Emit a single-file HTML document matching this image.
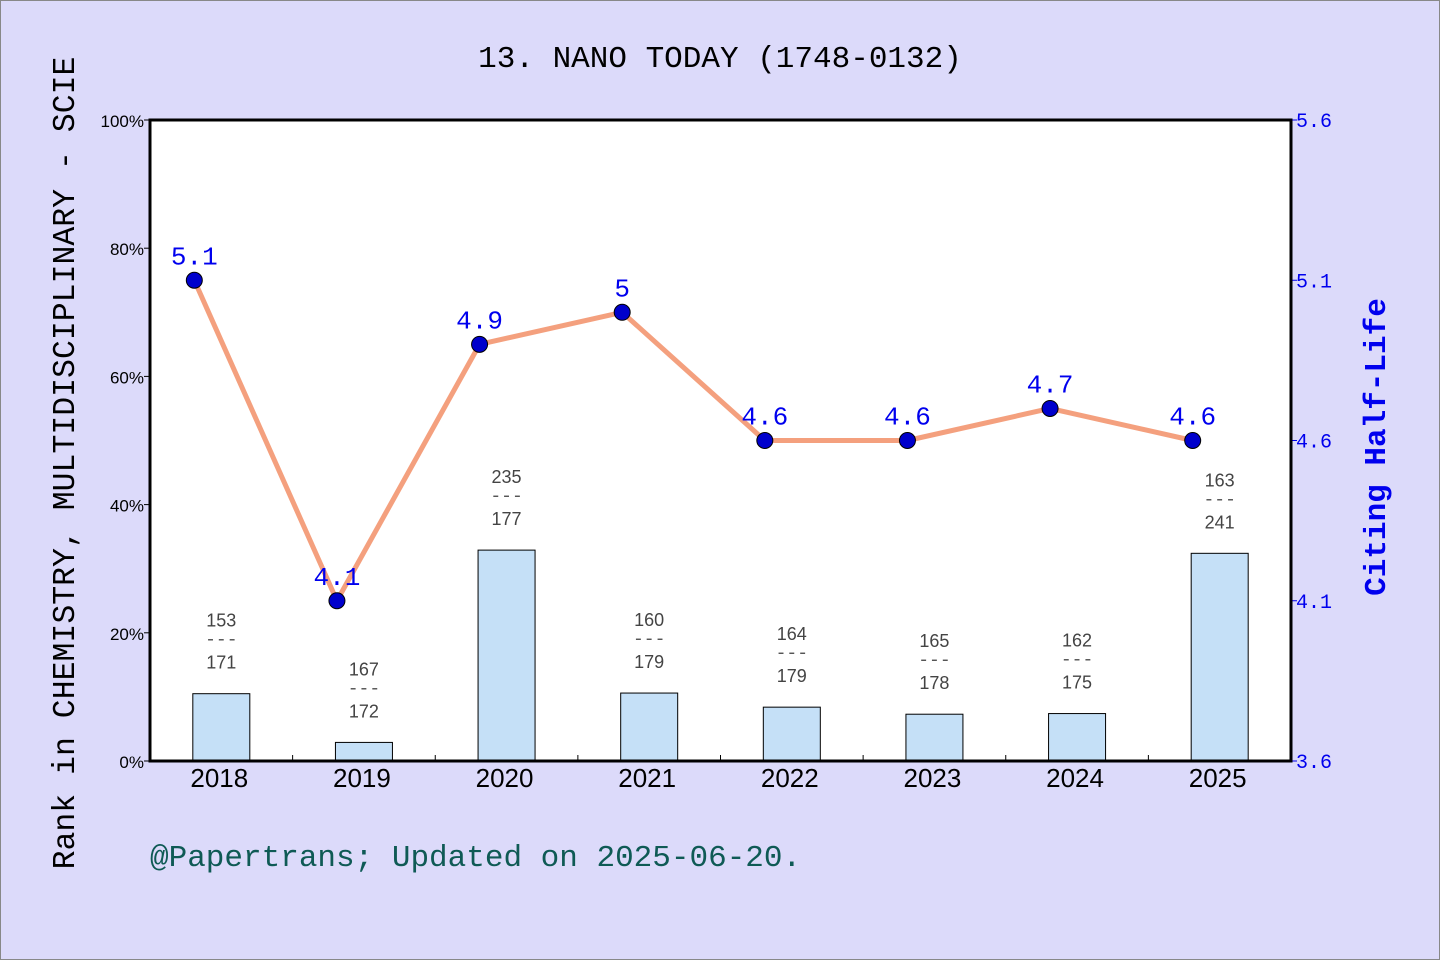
<!DOCTYPE html>
<html><head><meta charset="utf-8"><style>
html,body{margin:0;padding:0;background:#dcdafa;}
svg{display:block}
</style></head><body>
<svg id="chart" width="1440" height="960" xmlns="http://www.w3.org/2000/svg">
<rect x="0.5" y="0.5" width="1439" height="959" fill="#dcdafa" stroke="#888"/>
<text x="720" y="67" text-anchor="middle" font-family="Liberation Mono, 'Noto Sans CJK SC', monospace" font-size="31" fill="#000">13. NANO TODAY (1748-0132)</text>
<rect x="150" y="120" width="1141" height="641" fill="#fff"/>
<g id="bars"></g><g id="ticks"></g><g id="line"></g>
<rect x="150" y="120" width="1141" height="641" fill="none" stroke="#000" stroke-width="3"/>
<text transform="translate(74,463) rotate(-90)" text-anchor="middle" font-family="Liberation Mono, monospace" font-size="31.5" fill="#000">Rank in CHEMISTRY, MULTIDISCIPLINARY - SCIE</text>
<text transform="translate(1385,447) rotate(-90)" text-anchor="middle" font-family="Liberation Mono, monospace" font-size="31" font-weight="bold" fill="#0000ee">Citing Half-Life</text>
<text x="150" y="866" font-family="Liberation Mono, monospace" font-size="31" fill="#0f5a55">@Papertrans; Updated on 2025-06-20.</text>
</svg>
<script>
const years=['2018','2019','2020','2021','2022','2023','2024','2025'];
const rankPct=[10.5,2.9,32.9,10.6,8.4,7.3,7.4,32.4];
const rankNum=['153','167','235','160','164','165','162','163'];
const rankDen=['171','172','177','179','179','178','175','241'];
const halfLife=[5.1,4.1,4.9,5,4.6,4.6,4.7,4.6];
const halfLifeLabels=['5.1','4.1','4.9','5','4.6','4.6','4.7','4.6'];
const leftTicks=[0,20,40,60,80,100];
const rightTicks=[3.6,4.1,4.6,5.1,5.6];
const NS='http://www.w3.org/2000/svg';
const X0=150,X1=1291,Y0=761,Y1=120;
const bw=(X1-X0)/years.length;
const xc=i=>X0+(i+0.5)*bw;
const xp=i=>xc(i)-27;
const yL=v=>Y0-(v/100)*(Y0-Y1);
const yR=v=>Y0-((v-3.6)/2)*(Y0-Y1);
function mk(tag,attrs,parent,txt){const e=document.createElementNS(NS,tag);for(const k in attrs)e.setAttribute(k,attrs[k]);if(txt!==undefined)e.textContent=txt;parent.appendChild(e);return e;}
const gb=document.getElementById('bars'),gt=document.getElementById('ticks'),gl=document.getElementById('line');
const F="Liberation Sans, sans-serif";
years.forEach((y,i)=>{
 const top=yL(rankPct[i]);
 const r=mk('rect',{x:xc(i)-28.5,y:top,width:57,height:Y0-top,fill:'#c5e0f7',stroke:'#000','stroke-width':1},gb);
 
 
 const t1=mk('text',{x:xc(i),y:top-67,'text-anchor':'middle','font-family':F,'font-size':18,fill:'#444'},gb,rankNum[i]);
 
 
 const t2=mk('text',{x:xc(i),y:top-49,'text-anchor':'middle','font-family':'Liberation Mono, monospace','font-size':18,fill:'#555'},gb,'---');
 
 
 const t3=mk('text',{x:xc(i),y:top-25,'text-anchor':'middle','font-family':F,'font-size':18,fill:'#444'},gb,rankDen[i]);
 
 
 const xl=mk('text',{x:xc(i)-2,y:787,'text-anchor':'middle','font-family':F,'font-size':26,fill:'#000'},gt,y);
 
 
 if(i>0){const tk=mk('line',{x1:X0+i*bw,x2:X0+i*bw,y1:Y0,y2:Y0-6,stroke:'#000','stroke-width':1},gt);
 
 }
});
leftTicks.forEach(v=>{
 const tk=mk('line',{x1:X0-6,x2:X0,y1:yL(v),y2:yL(v),stroke:'#000','stroke-width':1},gt);
 
 
 const t=mk('text',{x:X0-6,y:yL(v)+7,'text-anchor':'end','font-family':F,'font-size':17,fill:'#000'},gt,v+'%');
 
 
});
rightTicks.forEach(v=>{
 const tk=mk('line',{x1:X1,x2:X1+6,y1:yR(v),y2:yR(v),stroke:'#0000ee','stroke-width':1},gt);
 
 
 const t=mk('text',{x:X1+5,y:yR(v)+7,'font-family':'Liberation Mono, monospace','font-size':20,fill:'#0000ee'},gt,v.toFixed(1));
 
 
});
const pts=halfLife.map((v,i)=>xp(i)+','+yR(v)).join(' ');
const pl=mk('polyline',{points:pts,fill:'none',stroke:'#f4a07e','stroke-width':5,'stroke-linejoin':'round'},gl);


halfLife.forEach((v,i)=>{
 const c=mk('circle',{cx:xp(i),cy:yR(v),r:8,fill:'#0000cc',stroke:'#000','stroke-width':1},gl);
 
 
 const t=mk('text',{x:xp(i),y:yR(v)-16,'text-anchor':'middle','font-family':'Liberation Mono, monospace','font-size':26,fill:'#0000ee'},gl,halfLifeLabels[i]);
 
 
});
</script>
</body></html>
